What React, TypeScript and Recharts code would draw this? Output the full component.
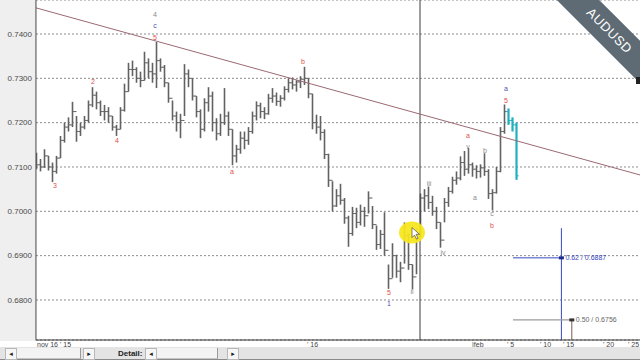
import React from "react";
import {
  Bar,
  ComposedChart,
  CartesianGrid,
  ReferenceDot,
  ReferenceLine,
  XAxis,
  YAxis,
} from "recharts";

// OHLC bars, AUDUSD (open = previous close)
const firstOpen = 0.712;
const highs = [
  0.7132, 0.7118, 0.714, 0.7125, 0.711, 0.7125, 0.717, 0.72, 0.7212, 0.7247,
  0.7215, 0.72, 0.7215, 0.725, 0.728, 0.727, 0.725, 0.724, 0.7235, 0.7215,
  0.7195, 0.7235, 0.7288, 0.7335, 0.734, 0.7325, 0.7315, 0.736, 0.7345, 0.7335,
  0.7382, 0.7345, 0.733, 0.729, 0.725, 0.7225, 0.722, 0.7332, 0.732, 0.73,
  0.726, 0.723, 0.7255, 0.728, 0.727, 0.721, 0.722, 0.7278, 0.7225, 0.7185,
  0.715, 0.718, 0.718, 0.719, 0.7225, 0.7248, 0.7245, 0.7235, 0.7265, 0.7278,
  0.7268, 0.7262, 0.7282, 0.73, 0.7302, 0.7296, 0.7305, 0.7326, 0.73, 0.7265,
  0.7218, 0.7215, 0.7185, 0.713, 0.7068, 0.705, 0.7062, 0.703, 0.699, 0.701,
  0.7008, 0.7015, 0.701, 0.7045, 0.7012, 0.6968, 0.6958, 0.6998, 0.688, 0.6928,
  0.6902, 0.6886, 0.6975, 0.695, 0.688, 0.6962, 0.704, 0.705, 0.7056, 0.7035,
  0.701, 0.6975, 0.703, 0.7055, 0.7078, 0.709, 0.7124, 0.7136, 0.7143, 0.711,
  0.7104, 0.7106, 0.7131, 0.7095, 0.705, 0.71, 0.719, 0.7241, 0.7232, 0.7212,
  0.72,
];
const lows = [
  0.7095, 0.709, 0.7098, 0.7092, 0.7066, 0.7085, 0.712, 0.7155, 0.718, 0.719,
  0.7157, 0.717, 0.7185, 0.72, 0.7235, 0.723, 0.7215, 0.7205, 0.72, 0.7182,
  0.717, 0.7185, 0.7225, 0.727, 0.7305, 0.729, 0.728, 0.7295, 0.73, 0.729,
  0.7278, 0.7315, 0.728, 0.7245, 0.7205, 0.718, 0.7165, 0.7215, 0.728, 0.725,
  0.7212, 0.7165, 0.718, 0.7225, 0.718, 0.716, 0.717, 0.7195, 0.717, 0.7104,
  0.711, 0.713, 0.714, 0.715, 0.7175, 0.7205, 0.721, 0.7208, 0.7218, 0.7245,
  0.7238, 0.7236, 0.725, 0.7268, 0.7275, 0.727, 0.7278, 0.7285, 0.7255, 0.7185,
  0.7175, 0.716, 0.7118, 0.7055, 0.7, 0.701, 0.7015, 0.6972, 0.692, 0.6945,
  0.6962, 0.6968, 0.6965, 0.6995, 0.696, 0.6913, 0.6915, 0.69, 0.6825, 0.685,
  0.685, 0.684, 0.6882, 0.6868, 0.6824, 0.6858, 0.6942, 0.7, 0.7005, 0.699,
  0.696, 0.6918, 0.6975, 0.701, 0.704, 0.706, 0.707, 0.708, 0.7085, 0.7078,
  0.7074, 0.7076, 0.708, 0.7028, 0.7002, 0.704, 0.7088, 0.7175, 0.7195, 0.718,
  0.7071,
];
const closes = [
  0.7105, 0.71, 0.7125, 0.71, 0.709, 0.712, 0.716, 0.719, 0.7195, 0.7225,
  0.718, 0.719, 0.7205, 0.724, 0.7262, 0.7245, 0.7225, 0.7225, 0.7215, 0.719,
  0.7185, 0.7228, 0.727, 0.732, 0.732, 0.73, 0.7295, 0.7335, 0.7315, 0.731,
  0.734, 0.7325, 0.729, 0.7255, 0.7215, 0.72, 0.7205, 0.731, 0.73, 0.726,
  0.7225, 0.7185, 0.7245, 0.726, 0.72, 0.7175, 0.72, 0.7215, 0.7185, 0.7125,
  0.714, 0.7165, 0.716, 0.718, 0.7215, 0.7238, 0.7225, 0.722, 0.7255, 0.726,
  0.7248, 0.7255, 0.7275, 0.729, 0.7285, 0.7292, 0.7298, 0.73, 0.7265, 0.72,
  0.719, 0.7178, 0.7128, 0.707, 0.7012, 0.7035, 0.7025, 0.6985, 0.695, 0.6995,
  0.6975, 0.7, 0.699, 0.703, 0.697, 0.6925, 0.6948, 0.6912, 0.6848, 0.69,
  0.6865, 0.6872, 0.6945, 0.688, 0.6852, 0.695, 0.703, 0.7035, 0.702, 0.7,
  0.6975, 0.6935, 0.702, 0.7045, 0.707, 0.7075, 0.711, 0.7095, 0.7105, 0.7095,
  0.709, 0.7098, 0.709, 0.704, 0.7042, 0.709, 0.718, 0.7225, 0.7205, 0.7195,
  0.708,
];
const cyanFrom = 118;

// wave labels
const waveX = [4.5, 14, 20, 29.5, 29.5, 29.5, 48.75, 66.5, 88, 88, 93.75, 98, 101.5, 107.75, 107.75, 109.5, 112, 113.75, 113.75, 117.25, 117.25];
const waveY = [0.7059, 0.7292, 0.7159, 0.7391, 0.7418, 0.7443, 0.7089, 0.7337, 0.6816, 0.6793, 0.6818, 0.7062, 0.6908, 0.7172, 0.7147, 0.7032, 0.7138, 0.6994, 0.6969, 0.7249, 0.7276];
const waveText = ["3", "2", "4", "5", "c", "4", "a", "b", "5", "1", "ii", "iii", "iv", "a", "v", "a", "b", "c", "b", "5", "a"];
const waveKind = ["r", "r", "r", "r", "b", "g", "r", "r", "r", "b", "g", "g", "g", "r", "g", "g", "g", "g", "r", "r", "b"];

const yTicks = [0.68, 0.69, 0.7, 0.71, 0.72, 0.73, 0.74];
const xTickPos = [0, 67.5, 108.75, 117.5, 125.75, 131.5, 141.5, 147.75];
const xTickLabels = ["nov 16 ' 15", "' 16", "|feb", "' 5", "' 10", "' 15", "' 20", "' 25"];

const trendStart = { x: -0.25, y: 0.7459 };
const trendEnd = { x: 150.75, y: 0.7082 };
const fibLevels = [0.6895, 0.6755];
const fibLabels = ["0.62 / 0.6887", "0.50 / 0.6756"];

const data = highs.map((h, i) => ({
  i,
  range: [lows[i], h],
  high: h,
  low: lows[i],
  open: i === 0 ? firstOpen : closes[i - 1],
  close: closes[i],
}));

const kindColor: Record<string, string> = { r: "#e0504a", b: "#4a55b0", g: "#8a8a8a" };

function OhlcShape(props: any) {
  const { x, y, width, height, payload } = props;
  const top = Math.min(y, y + height);
  const h = Math.abs(height);
  const cx = x + width / 2;
  const span = payload.high - payload.low || 1;
  const yOf = (v: number) => top + ((payload.high - v) / span) * h;
  const cyan = payload.i >= cyanFrom;
  const col = cyan ? "#1fb0c0" : "#626262";
  const sw = cyan ? 2.2 : 1.6;
  return (
    <g>
      <line x1={cx} x2={cx} y1={top} y2={top + h} stroke={col} strokeWidth={sw} />
      <line x1={cx - 2.2} x2={cx} y1={yOf(payload.open)} y2={yOf(payload.open)} stroke={col} strokeWidth={1} />
      <line x1={cx} x2={cx + 2.2} y1={yOf(payload.close)} y2={yOf(payload.close)} stroke={col} strokeWidth={1} />
    </g>
  );
}

function XTick(props: any) {
  const { x, y, index } = props;
  return (
    <text x={x} y={y + 7} fontSize={7} fill="#444">
      {xTickLabels[index]}
    </text>
  );
}

const btn = (left: number, ch: string) => (
  <div
    style={{
      position: "absolute", left, top: 1, width: 10, height: 10, background: "#f6f6f6",
      border: "1px solid #b8b8b8", fontSize: 7, lineHeight: "10px", textAlign: "center",
      fontFamily: "DejaVu Sans", color: "#222",
    }}
  >
    {ch}
  </div>
);

const track = (left: number, width: number) => (
  <div style={{ position: "absolute", left, top: 1, width, height: 10, background: "#f3f3f3", borderBottom: "1px solid #c4c4c4", borderRight: "1px solid #9a9a9a" }} />
);

export default function App() {
  return (
    <div style={{ position: "fixed", left: 0, top: 0, width: 640, height: 360, overflow: "hidden", background: "#fff", fontFamily: '"Liberation Sans", Arial, sans-serif' }}>
      <div style={{ position: "absolute", left: 0, top: 0, width: 35, height: 341, background: "#efefef", borderRight: "1px solid #d4d4d4" }} />
      <div style={{ position: "absolute", left: 0, top: 0 }}>
        <ComposedChart width={640} height={360} data={data} margin={{ top: 0, right: 0, bottom: 0, left: 0 }}>
          <CartesianGrid vertical={false} stroke="#8c8c8c" strokeDasharray="2 2" />
          <XAxis
            type="number"
            dataKey="i"
            domain={[-0.25, 150.75]}
            allowDataOverflow
            ticks={xTickPos}
            interval={0}
            tick={<XTick />}
            tickLine={false}
            tickSize={0}
            tickMargin={0}
            height={20}
            stroke="#333"
          />
          <YAxis
            type="number"
            domain={[0.67097, 0.74767]}
            allowDataOverflow
            ticks={yTicks}
            width={36}
            tickFormatter={(v: number) => v.toFixed(4)}
            tick={{ fontSize: 8, fill: "#4a4a4a" }}
            tickLine={false}
            tickSize={0}
            tickMargin={4}
            stroke="#555"
          />
          <ReferenceLine x={95.75} stroke="#3c3c3c" strokeWidth={1} />
          <ReferenceLine segment={[trendStart, trendEnd]} stroke="#9a6a72" strokeWidth={1} />
          <Bar dataKey="range" barSize={3} shape={<OhlcShape />} isAnimationActive={false} />
          <ReferenceLine segment={[{ x: 119, y: fibLevels[0] }, { x: 131.1, y: fibLevels[0] }]} stroke="#3848c0" strokeWidth={1} />
          <ReferenceLine segment={[{ x: 131.1, y: 0.6962 }, { x: 131.1, y: 0.671 }]} stroke="#3848c0" strokeWidth={1} />
          <ReferenceLine segment={[{ x: 119, y: fibLevels[1] }, { x: 133.7, y: fibLevels[1] }]} stroke="#9c9c9c" strokeWidth={1.2} />
          <ReferenceLine segment={[{ x: 133.7, y: fibLevels[1] }, { x: 133.7, y: 0.671 }]} stroke="#7a5a52" strokeWidth={1} />
          <ReferenceDot
            x={131.1}
            y={fibLevels[0]}
            shape={(p: any) => (
              <g>
                <rect x={p.cx - 2.5} y={p.cy - 1.5} width={5} height={3} fill="#1a2a90" />
                <text x={p.cx + 4} y={p.cy} dy="0.35em" fontSize={7} fill="#3848c0">{fibLabels[0]}</text>
              </g>
            )}
          />
          <ReferenceDot
            x={133.7}
            y={fibLevels[1]}
            shape={(p: any) => (
              <g>
                <rect x={p.cx - 2.5} y={p.cy - 1.5} width={5} height={3} fill="#333" />
                <text x={p.cx + 4} y={p.cy} dy="0.35em" fontSize={7} fill="#666">{fibLabels[1]}</text>
              </g>
            )}
          />
          {waveText.map((t, k) => (
            <ReferenceDot
              key={k}
              x={waveX[k]}
              y={waveY[k]}
              shape={(p: any) => (
                <text x={p.cx} y={p.cy} dy="0.35em" textAnchor="middle" fontSize={7} fill={kindColor[waveKind[k]]}>
                  {t}
                </text>
              )}
            />
          ))}
          <ReferenceDot
            x={93.75}
            y={0.6952}
            shape={(p: any) => (
              <g>
                <ellipse cx={p.cx} cy={p.cy} rx={13} ry={11} fill="#f6e61c" fillOpacity={0.93} />
                <path
                  d={`M${p.cx} ${p.cy - 5} l0 10 l2.5 -2.5 l2 4 l1.6 -0.8 l-2 -4 l3.4 0 z`}
                  fill="#fff"
                  stroke="#333"
                  strokeWidth={0.6}
                />
              </g>
            )}
          />
        </ComposedChart>
      </div>
      <div style={{ position: "absolute", left: 0, top: 347, width: 640, height: 13, background: "#e4e4e4", borderBottom: "1px solid #8a8a8a", boxSizing: "border-box" }}>
        {btn(5, "◂")}
        {track(17, 63)}
        {btn(83, "▸")}
        <div style={{ position: "absolute", left: 118, top: 1, fontSize: 8, fontWeight: "bold", color: "#222", lineHeight: "11px" }}>Detail:</div>
        {btn(145, "◂")}
        {track(157, 60)}
        {btn(227, "▸")}
      </div>
      <div style={{ position: "absolute", left: 529, top: 16, width: 160, height: 30, background: "#5e6b74", transform: "rotate(45deg)", color: "#fff", fontSize: 13, lineHeight: "30px", textAlign: "center", letterSpacing: 0.5 }}>
        AUDUSD
      </div>
      <div style={{ position: "absolute", left: 636, top: 77, width: 4, height: 7, background: "#222" }} />
    </div>
  );
}
